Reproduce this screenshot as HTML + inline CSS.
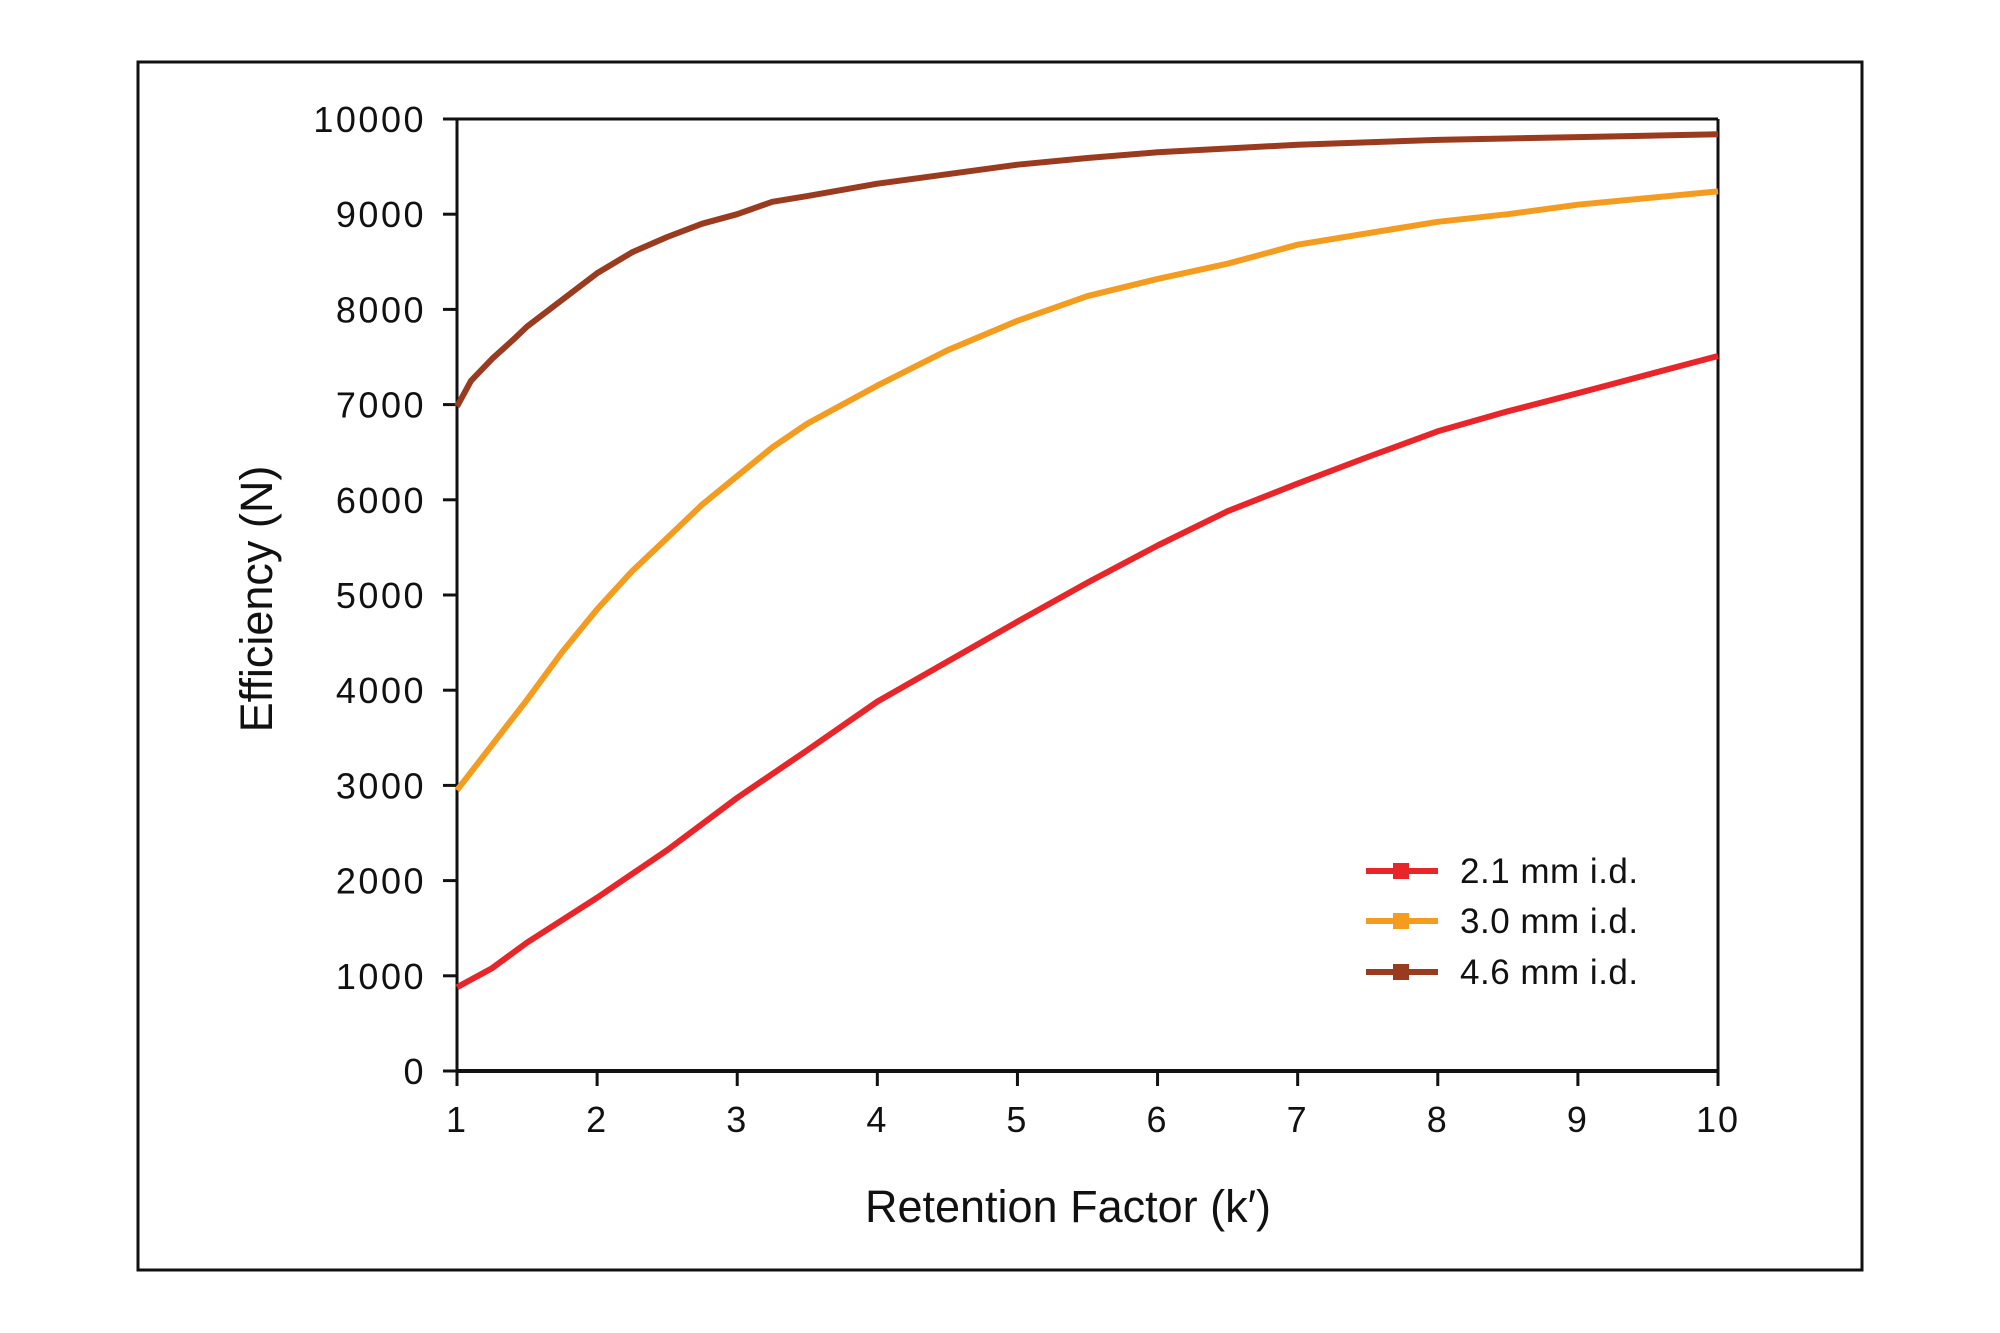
<!DOCTYPE html>
<html><head><meta charset="utf-8"><style>
html,body{margin:0;padding:0;background:#fff;}
svg{display:block;font-family:"Liberation Sans",sans-serif;}
</style></head><body>
<svg id="s" width="2000" height="1333" viewBox="0 0 2000 1333" xmlns="http://www.w3.org/2000/svg">
<rect x="138" y="62" width="1724" height="1208" fill="none" stroke="#111" stroke-width="3"/>
<g id="g"></g>
</svg>
<script>
var g=document.getElementById('g');
var X0=457,X1=1718,Y0=1071,Y1=119;
function px(k){return X0+(k-1)*(X1-X0)/9;}
function py(v){return Y0-v*(Y0-Y1)/10000;}
var h='';
h+='<line x1="'+X0+'" y1="'+Y1+'" x2="'+X1+'" y2="'+Y1+'" stroke="#111" stroke-width="3"/>';
h+='<line x1="'+X1+'" y1="'+Y1+'" x2="'+X1+'" y2="'+Y0+'" stroke="#111" stroke-width="3"/>';
h+='<line x1="'+X0+'" y1="'+Y1+'" x2="'+X0+'" y2="'+Y0+'" stroke="#111" stroke-width="3"/>';
h+='<line x1="'+X0+'" y1="'+Y0+'" x2="'+X1+'" y2="'+Y0+'" stroke="#111" stroke-width="4"/>';
for(var i=0;i<=10;i++){var y=py(i*1000);
h+='<line x1="443" y1="'+y+'" x2="'+X0+'" y2="'+y+'" stroke="#111" stroke-width="3"/>';
h+='<text x="426" y="'+(y+13)+'" font-size="36" text-anchor="end" fill="#111" letter-spacing="2.5">'+(i*1000)+'</text>';}
for(var k=1;k<=10;k++){var x=px(k);
h+='<line x1="'+x+'" y1="'+Y0+'" x2="'+x+'" y2="1086" stroke="#111" stroke-width="3"/>';
h+='<text x="'+x+'" y="1132" font-size="36" text-anchor="middle" fill="#111" letter-spacing="2">'+k+'</text>';}
h+='<text x="0" y="0" font-size="45" text-anchor="middle" fill="#111" transform="translate(272,599) rotate(-90)">Efficiency (N)</text>';
h+='<text x="1068" y="1222" font-size="45" text-anchor="middle" fill="#111">Retention Factor (k\u2032)</text>';
var S=[
["#e8262a",[[1,880],[1.25,1080],[1.5,1350],[2,1820],[2.5,2320],[3,2870],[3.5,3370],[4,3880],[4.5,4300],[5,4720],[5.5,5130],[6,5520],[6.5,5880],[7,6170],[7.5,6450],[8,6720],[8.5,6930],[9,7120],[10,7510]]],
["#f39c1f",[[1,2950],[1.5,3900],[1.75,4400],[2,4850],[2.25,5250],[2.5,5600],[2.75,5950],[3,6250],[3.25,6550],[3.5,6800],[4,7200],[4.5,7570],[5,7880],[5.5,8140],[6,8320],[6.5,8480],[7,8680],[8,8920],[8.5,9000],[9,9100],[10,9240]]],
["#9a3a1e",[[1,6980],[1.1,7250],[1.25,7480],[1.4,7680],[1.5,7820],[1.75,8100],[2,8380],[2.25,8600],[2.5,8760],[2.75,8900],[3,9000],[3.25,9130],[3.5,9190],[4,9320],[4.5,9420],[5,9520],[5.5,9590],[6,9650],[7,9730],[8,9780],[9,9810],[10,9840]]]];
var labs=["2.1 mm i.d.","3.0 mm i.d.","4.6 mm i.d."],ly=[871,921,972];
S.forEach(function(s,i){
 var p=s[1].map(function(d){return px(d[0]).toFixed(1)+','+py(d[1]).toFixed(1)}).join(' ');
 h+='<polyline points="'+p+'" fill="none" stroke="'+s[0]+'" stroke-width="6" stroke-linejoin="round"/>';
 h+='<line x1="1366" y1="'+ly[i]+'" x2="1438" y2="'+ly[i]+'" stroke="'+s[0]+'" stroke-width="6"/>';
 h+='<rect x="1393" y="'+(ly[i]-8)+'" width="16" height="16" fill="'+s[0]+'"/>';
 h+='<text x="1460" y="'+(ly[i]+12)+'" font-size="35" fill="#111" letter-spacing="0.5">'+labs[i]+'</text>';
});
g.innerHTML=h;
</script>
</body></html>
